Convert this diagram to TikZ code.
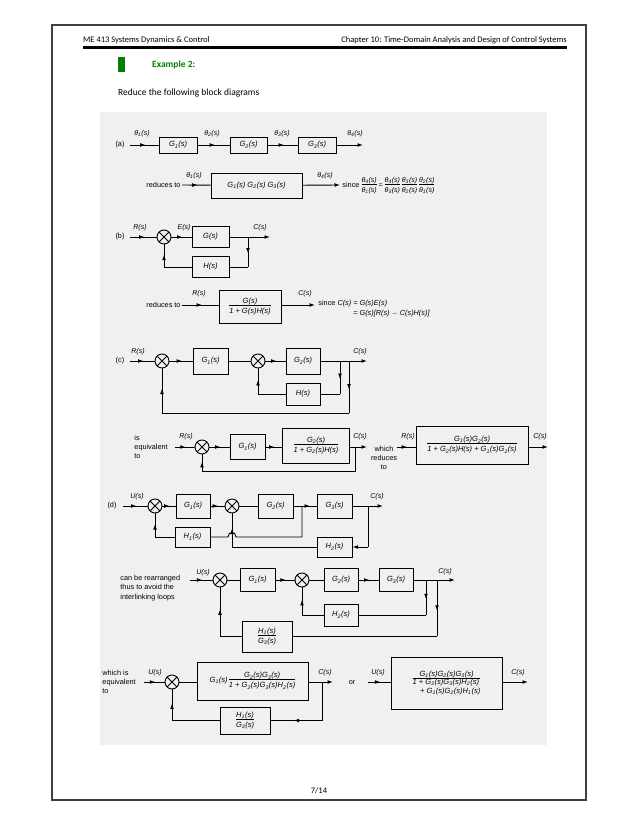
\documentclass[tikz,border=0pt]{standalone}
\usepackage{fontspec}
\setmainfont{Liberation Sans}
\newfontfamily\hdr{Carlito}
\usetikzlibrary{arrows.meta,decorations.markings}
\newcommand\ff[2]{#1\textsubscript{#2}(s)}
\newcommand\sigf{\fontsize{7}{8}\selectfont\itshape}
\newcommand\blkf{\fontsize{7.5}{9}\selectfont\itshape}
\newcommand\txtf{\fontsize{7.3}{9.2}\selectfont}
\newcommand\fr[2]{\begin{tabular}{@{}c@{}}#1\\[-1pt]\hline\rule{0pt}{8pt}#2\end{tabular}}
\tikzset{
 blk/.style={draw, line width=0.9pt, inner sep=1pt, font=\blkf},
 sumj/.style={circle, draw, line width=0.9pt, minimum size=14pt, inner sep=0pt,
   path picture={\draw[line width=0.8pt] (path picture bounding box.north west)--(path picture bounding box.south east)
     (path picture bounding box.north east)--(path picture bounding box.south west);}},
 lbl/.style={font=\sigf, inner sep=1pt},
 txt/.style={font=\txtf, inner sep=0pt, align=left},
 midarr/.style={postaction={decorate}, decoration={markings, mark=at position 0.55 with {\arrow{Latex[length=5.5pt,width=3.8pt]}}}},
 outarr/.style={-{Latex[length=5.5pt,width=3.8pt]}},
}
\begin{document}
\begin{tikzpicture}[x=1pt,y=-1pt]
\useasboundingbox (0,0) rectangle (638,826);
% page
\draw[line width=1.6pt, black!75] (52,25) rectangle (586,800);
\node[font=\hdr\fontsize{8.5}{10}\selectfont, anchor=base west, inner sep=0] (h1) at (83,43) {ME 413 Systems Dynamics \& Control};
\node[font=\hdr\fontsize{8.5}{10}\selectfont, anchor=base east, inner sep=0] (h2) at (567,43) {Chapter 10: Time-Domain Analysis and Design of Control Systems};
\draw[line width=0.5pt] (83,46) -- (567,46);
\draw[line width=2pt] (83,48.5) -- (567,48.5);
\fill[green!50!black] (118,57) rectangle (125,72);
\node[font=\hdr\bfseries\fontsize{9.5}{11}\selectfont, text=green!50!black, anchor=west, inner sep=0] (ex) at (152,65) {Example 2:};
\node[font=\hdr\fontsize{9.5}{11}\selectfont, anchor=west, inner sep=0] (rd) at (118,93) {Reduce the following block diagrams};
\fill[black!6] (100,112) rectangle (547,745);
\node[font=\hdr\fontsize{8.5}{10}\selectfont, inner sep=0] (pg) at (319,791) {7/14};

\begin{scope}[line width=0.9pt]
% ---------------- (a)
\node[txt] (la) at (120,145) {(a)};
\coordinate (ain) at (130,145);
\node[blk, minimum width=38pt, minimum height=16pt] (a1) at (178,145) {\ff{G}{1}};
\node[blk, minimum width=37pt, minimum height=16pt] (a2) at (248.5,145) {\ff{G}{2}};
\node[blk, minimum width=38pt, minimum height=16pt] (a3) at (317,145) {\ff{G}{3}};
\coordinate (aout) at (363,145);
\draw[midarr] (ain) -- (a1);
\draw[midarr] (a1) -- (a2);
\draw[midarr] (a2) -- (a3);
\draw[outarr] (a3) -- (aout);
\node[lbl] (t1) at (142,134) {\ff{θ}{1}};
\node[lbl] (t2) at (212,134) {\ff{θ}{2}};
\node[lbl] (t3) at (282,134) {\ff{θ}{3}};
\node[lbl] (t4) at (355,134) {\ff{θ}{4}};
% reduced a
\node[txt, anchor=east] (ra) at (181,185) {reduces to};
\coordinate (rain) at (182,185);
\node[blk, minimum width=91pt, minimum height=25pt] (ab) at (256.5,185.5) {\ff{G}{1} \ff{G}{2} \ff{G}{3}};
\coordinate (raout) at (340,185);
\draw[midarr] (rain) -- (ab);
\draw[outarr] (ab) -- (raout);
\node[lbl] (t5) at (194,176) {\ff{θ}{1}};
\node[lbl] (t6) at (325,176) {\ff{θ}{4}};
\node[txt, anchor=west] (sa) at (342,186) {since {\sigf\fr{\ff{θ}{4}}{\ff{θ}{1}} = \fr{\ff{θ}{4}}{\ff{θ}{3}} \fr{\ff{θ}{3}}{\ff{θ}{2}} \fr{\ff{θ}{2}}{\ff{θ}{1}}}};
% ---------------- (b)
\node[txt] (lb) at (120,237) {(b)};
\coordinate (bin) at (130,237);
\node[sumj] (bs) at (164,237) {};
\node[blk, minimum width=37pt, minimum height=21pt] (bG) at (210.5,237) {G(s)};
\coordinate (bbr) at (248,237);
\coordinate (bout) at (270,237);
\node[blk, minimum width=37pt, minimum height=21pt] (bH) at (210.5,267) {H(s)};
\coordinate (bc1) at (248,267);
\coordinate (bc2) at (164,267);
\draw[midarr] (bin) -- (bs);
\draw[midarr] (bs) -- (bG);
\draw (bG) -- (bbr);
\draw[outarr] (bbr) -- (bout);
\draw[midarr] (bbr) -- (bc1);
\draw (bc1) -- (bH);
\draw (bH) -- (bc2);
\draw[midarr] (bc2) -- (bs);
\node[lbl] (l1) at (140,228) {R(s)};
\node[lbl] (l2) at (184,228) {E(s)};
\node[lbl] (l3) at (260,228) {C(s)};
% reduced b
\node[txt, anchor=east] (rb) at (181,305) {reduces to};
\coordinate (rbin) at (182,305);
\node[blk, minimum width=62pt, minimum height=33pt] (bb) at (250,306.5) {\fr{G(s)}{1 + G(s)H(s)}};
\coordinate (rbout) at (315,305);
\draw[midarr] (rbin) -- (rbin-|bb.west);
\draw[outarr] (rbout-|bb.east) -- (rbout);
\node[lbl] (l4) at (199,294) {R(s)};
\node[lbl] (l5) at (305,294) {C(s)};
\node[txt, anchor=north west] (sb) at (318,299) {\begin{tabular}{@{}r@{ }l@{}}since \textit{C(s)} & \textit{= G(s)E(s)}\\ & \textit{= G(s)[R(s) $-$ C(s)H(s)]}\end{tabular}};
% ---------------- (c)
\node[txt] (lc) at (120,361) {(c)};
\coordinate (cin) at (130,361);
\node[sumj] (cs1) at (162,361) {};
\node[blk, minimum width=35pt, minimum height=26pt] (cG1) at (210.5,361) {\ff{G}{1}};
\node[sumj] (cs2) at (258,361) {};
\node[blk, minimum width=34pt, minimum height=26pt] (cG2) at (303,361) {\ff{G}{2}};
\coordinate (cb1) at (340,361);
\coordinate (cb2) at (349,361);
\coordinate (cout) at (367,361);
\node[blk, minimum width=34pt, minimum height=22pt] (cH) at (303,394) {H(s)};
\coordinate (cc1) at (340,394);
\coordinate (cc2) at (258,394);
\coordinate (cc3) at (349,413);
\coordinate (cc4) at (162,413);
\draw[midarr] (cin) -- (cs1);
\draw[midarr] (cs1) -- (cG1);
\draw (cG1) -- (cs2);
\draw[midarr] (cs2) -- (cG2);
\draw (cG2) -- (cb2);
\draw[outarr] (cb2) -- (cout);
\draw[midarr] (cb1) -- (cc1);
\draw (cc1) -- (cH);
\draw (cH) -- (cc2);
\draw[midarr] (cc2) -- (cs2);
\draw[midarr] (cb2) -- (cc3);
\draw (cc3) -- (cc4);
\draw[midarr] (cc4) -- (cs1);
\node[lbl] (l6) at (138,352) {R(s)};
\node[lbl] (l7) at (360,352) {C(s)};
% equivalent row
\node[txt, anchor=west] (te) at (134,447) {is\\equivalent\\to};
\coordinate (ein) at (175,447);
\node[sumj] (es) at (202,447) {};
\node[blk, minimum width=35pt, minimum height=25pt] (eG1) at (247.5,447) {\ff{G}{1}};
\node[blk, minimum width=67pt, minimum height=35pt] (eB) at (316,445.5) {\fr{\ff{G}{2}}{1 + \ff{G}{2}H(s)}};
\coordinate (eb) at (355,447);
\coordinate (eout) at (367,447);
\coordinate (ec1) at (355,471);
\coordinate (ec2) at (202,471);
\draw[midarr] (ein) -- (es);
\draw[midarr] (es) -- (eG1);
\draw[midarr] (eG1) -- (eG1-|eB.west);
\draw (eb-|eB.east) -- (eb);
\draw[outarr] (eb) -- (eout);
\draw (eb) -- (ec1) -- (ec2);
\draw[midarr] (ec2) -- (es);
\node[lbl] (l8) at (186,437) {R(s)};
\node[lbl] (l9) at (360,437) {C(s)};
\node[txt, align=center] (tw) at (384,458) {which\\reduces\\to};
\coordinate (rin2) at (397,447);
\node[blk, minimum width=112pt, minimum height=38pt] (rB) at (472,445) {\fr{\ff{G}{1}\ff{G}{2}}{1 + \ff{G}{2}H(s) + \ff{G}{1}\ff{G}{2}}};
\coordinate (rout2) at (548,447);
\draw[midarr] (rin2) -- (rin2-|rB.west);
\draw[outarr] (rout2-|rB.east) -- (rout2);
\node[lbl] (l10) at (408,437) {R(s)};
\node[lbl] (l11) at (540,437) {C(s)};
% ---------------- (d)
\node[txt] (ld) at (112,506) {(d)};
\coordinate (din) at (123,506);
\node[sumj] (ds1) at (155,506) {};
\node[blk, minimum width=34pt, minimum height=24pt] (dG1) at (193,506) {\ff{G}{1}};
\node[sumj] (ds2) at (232,506) {};
\node[blk, minimum width=35pt, minimum height=24pt] (dG2) at (275.5,506) {\ff{G}{2}};
\coordinate (db1) at (302,506);
\node[blk, minimum width=35pt, minimum height=24pt] (dG3) at (334.5,506) {\ff{G}{3}};
\coordinate (db2) at (368,506);
\coordinate (dout) at (383,506);
\node[blk, minimum width=35pt, minimum height=20pt] (dH1) at (192.5,537) {\ff{H}{1}};
\node[blk, minimum width=35pt, minimum height=20pt] (dH2) at (334.5,547) {\ff{H}{2}};
\coordinate (dc1) at (302,537);
\coordinate (dj1) at (236,537);
\coordinate (dj2) at (228,537);
\coordinate (dc2) at (155,537);
\coordinate (dc3) at (368,547);
\coordinate (dc4) at (232,547);
\draw[midarr] (din) -- (ds1);
\draw[midarr] (ds1) -- (dG1);
\draw[midarr] (dG1) -- (ds2);
\draw (ds2) -- (dG2);
\draw (dG2) -- (db1);
\draw[midarr] (db1) -- (dG3);
\draw (dG3) -- (db2);
\draw[outarr] (db2) -- (dout);
\draw (db1) -- (dc1) -- (dj1) .. controls (236,531) and (228,531) .. (dj2) -- (dH1);
\draw (dH1) -- (dc2);
\draw[midarr] (dc2) -- (ds1);
\draw (db2) -- (dc3);
\draw[outarr] (dc3) -- (dH2);
\draw (dH2) -- (dc4);
\draw[midarr] (dc4) -- (ds2);
\node[lbl] (l12) at (137,497) {U(s)};
\node[lbl] (l13) at (377,497) {C(s)};
% ---------------- rearranged
\node[txt, anchor=west] (tr) at (120,588) {can be rearranged\\thus to avoid the\\interlinking loops};
\coordinate (qin) at (190,580);
\node[sumj] (qs1) at (220,580) {};
\node[blk, minimum width=35pt, minimum height=23pt] (qG1) at (257.5,580) {\ff{G}{1}};
\node[sumj] (qs2) at (302,580) {};
\node[blk, minimum width=34pt, minimum height=23pt] (qG2) at (341,580) {\ff{G}{2}};
\node[blk, minimum width=34pt, minimum height=23pt] (qG3) at (396,580) {\ff{G}{3}};
\coordinate (qb1) at (426,580);
\coordinate (qb2) at (437,580);
\coordinate (qout) at (455,580);
\node[blk, minimum width=34pt, minimum height=22pt] (qH2) at (341,615) {\ff{H}{2}};
\node[blk, minimum width=50pt, minimum height=31pt] (qH1) at (267,636.5) {\fr{\ff{H}{1}}{\ff{G}{3}}};
\coordinate (qc1) at (426,615);
\coordinate (qc2) at (302,615);
\coordinate (qc3) at (437,636);
\coordinate (qc4) at (220,636);
\draw[midarr] (qin) -- (qs1);
\draw (qs1) -- (qG1);
\draw[midarr] (qG1) -- (qs2);
\draw (qs2) -- (qG2);
\draw[midarr] (qG2) -- (qG3);
\draw (qG3) -- (qb2);
\draw[outarr] (qb2) -- (qout);
\draw[midarr] (qb1) -- (qc1);
\draw (qc1) -- (qH2);
\draw (qH2) -- (qc2);
\draw[midarr] (qc2) -- (qs2);
\draw[midarr] (qb2) -- (qc3);
\draw (qc3) -- (qc3-|qH1.east);
\draw (qH1.west|-qc4) -- (qc4);
\draw[midarr] (qc4) -- (qs1);
\node[lbl] (l14) at (203,573) {U(s)};
\node[lbl] (l15) at (445,572) {C(s)};
% ---------------- final
\node[txt, anchor=west] (tf) at (102,682) {which is\\equivalent\\to};
\coordinate (fin) at (144,682);
\node[sumj] (fs) at (172,682) {};
\node[blk, minimum width=111pt, minimum height=38pt] (fB) at (252.5,681) {\ff{G}{1}\,\fr{\ff{G}{2}\ff{G}{3}}{1 + \ff{G}{2}\ff{G}{3}\ff{H}{2}}};
\coordinate (fb) at (322,682);
\coordinate (fout) at (333,682);
\node[blk, minimum width=50pt, minimum height=27pt] (fH) at (245,720.5) {\fr{\ff{H}{1}}{\ff{G}{3}}};
\coordinate (fc1) at (322,720.5);
\coordinate (fc2) at (172,720.5);
\draw[midarr] (fin) -- (fs);
\draw (fs) -- (fs-|fB.west);
\draw (fb-|fB.east) -- (fb);
\draw[outarr] (fb) -- (fout);
\draw (fb) -- (fc1);
\draw[midarr] (fc1) -- (fH);
\draw (fH) -- (fc2);
\draw[midarr] (fc2) -- (fs);
\node[lbl] (l16) at (155,673) {U(s)};
\node[lbl] (l17) at (325,673) {C(s)};
\node[txt] (or) at (352,683) {or};
\coordinate (oin) at (368,682);
\node[blk, minimum width=111pt, minimum height=52pt] (oB) at (446.5,683) {\fr{\ff{G}{1}\ff{G}{2}\ff{G}{3}}{\begin{tabular}{@{}l@{}}1 + \ff{G}{2}\ff{G}{3}\ff{H}{2}\\\quad + \ff{G}{1}\ff{G}{2}\ff{H}{1}\end{tabular}}};
\coordinate (oout) at (528,682);
\draw[midarr] (oin) -- (oin-|oB.west);
\draw[outarr] (oout-|oB.east) -- (oout);
\node[lbl] (l18) at (378,673) {U(s)};
\node[lbl] (l19) at (518,673) {C(s)};
\end{scope}
\end{tikzpicture}
\end{document}
